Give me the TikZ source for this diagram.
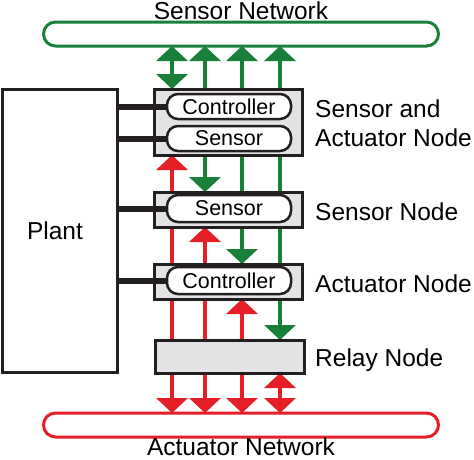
\documentclass[tikz,border=0pt]{standalone}
\usepackage{fontspec}
\setmainfont{Liberation Sans}
\usetikzlibrary{arrows.meta,backgrounds}
\definecolor{netgreen}{RGB}{24,128,56}
\definecolor{netred}{RGB}{230,30,38}
\definecolor{boxgray}{RGB}{226,227,229}
\definecolor{ink}{RGB}{35,31,32}
\begin{document}
\begin{tikzpicture}[x=1pt,y=-1pt,
  bigfont/.style={font=\fontsize{24.5}{29}\selectfont},
  pillfont/.style={font=\fontsize{21.5}{25}\selectfont},
  netbar/.style={draw=#1,line width=3pt,rounded corners=12pt,minimum width=395pt,minimum height=24pt,inner sep=0pt,outer sep=0pt,fill=white},
  nodebox/.style={draw=ink,line width=3pt,fill=boxgray,minimum width=148pt,inner sep=0pt,outer sep=0pt},
  pill/.style={draw=ink,line width=2.5pt,fill=white,rounded corners=11pt,minimum width=124pt,inner sep=0pt,outer sep=0pt,pillfont},
  plantbox/.style={draw=ink,line width=3pt,fill=white,minimum width=115pt,minimum height=283pt,inner sep=0pt,outer sep=0pt,bigfont},
  label/.style={anchor=base west,inner sep=0pt,bigfont,align=left},
  garrow/.style={draw=netgreen,fill=netgreen,line width=4.5pt,{Triangle[width=31pt,length=15pt]}-{Triangle[width=31pt,length=15pt]}},
  rarrow/.style={draw=netred,fill=netred,line width=4.5pt,{Triangle[width=31pt,length=15pt]}-{Triangle[width=31pt,length=15pt]}},
  plantlink/.style={draw=ink,line width=6pt}
]
\useasboundingbox (0,0) rectangle (474,459);

% networks
\node[netbar=netgreen] (snet) at (241,34) {};
\node[netbar=netred] (anet) at (241,425) {};
\node[bigfont,anchor=base,inner sep=0pt] (snetlabel) at (241,19.5) {Sensor Network};
\node[bigfont,anchor=base,inner sep=0pt] (anetlabel) at (241,455) {Actuator Network};

% column coordinates
\coordinate (c1) at (172,0);
\coordinate (c2) at (205,0);
\coordinate (c3) at (242,0);
\coordinate (c4) at (280,0);

% boxes
\node[plantbox] (plant) at (59.5,230.5) {\hspace*{-9pt}Plant};
\node[nodebox,minimum height=66pt] (san) at (228,122) {};
\node[nodebox,minimum height=35pt] (sn) at (228,209.5) {};
\node[nodebox,minimum height=35pt] (an) at (228,281.5) {};
\node[nodebox,minimum width=149pt,minimum height=33pt] (relay) at (229.5,356.5) {};

\node[pill,minimum height=25pt] (ctrl1) at (229,106.5) {Controller};
\node[pill,minimum height=25pt] (sens1) at (229,138.5) {Sensor};
\node[pill,minimum height=27pt] (sens2) at (229,208.5) {Sensor};
\node[pill,minimum height=27pt] (ctrl2) at (229,280.5) {Controller};

% arrows behind boxes
\begin{scope}[on background layer]
\draw[garrow] (san.north -| c1) -- (snet.south -| c1);
\draw[garrow] (sn.north -| c2) -- (snet.south -| c2);
\draw[garrow] (an.north -| c3) -- (snet.south -| c3);
\draw[garrow] (relay.north -| c4) -- (snet.south -| c4);
\draw[rarrow] (san.south -| c1) -- (anet.north -| c1);
\draw[rarrow] (sn.south -| c2) -- (anet.north -| c2);
\draw[rarrow] (an.south -| c3) -- (anet.north -| c3);
\draw[rarrow] (relay.south -| c4) -- (anet.north -| c4);
\end{scope}

% plant links
\draw[plantlink] (plant.east |- ctrl1.west) -- (ctrl1.west);
\draw[plantlink] (plant.east |- sens1.west) -- (sens1.west);
\draw[plantlink] (plant.east |- sens2.west) -- (sens2.west);
\draw[plantlink] (plant.east |- ctrl2.west) -- (ctrl2.west);

% labels
\node[label] (sanlabel) at (315,146) {Sensor and\\Actuator Node};
\node[label] (snlabel) at (315,220) {Sensor Node};
\node[label] (anlabel) at (315,292) {Actuator Node};
\node[label] (rnlabel) at (315,366) {Relay Node};
\end{tikzpicture}
\end{document}
